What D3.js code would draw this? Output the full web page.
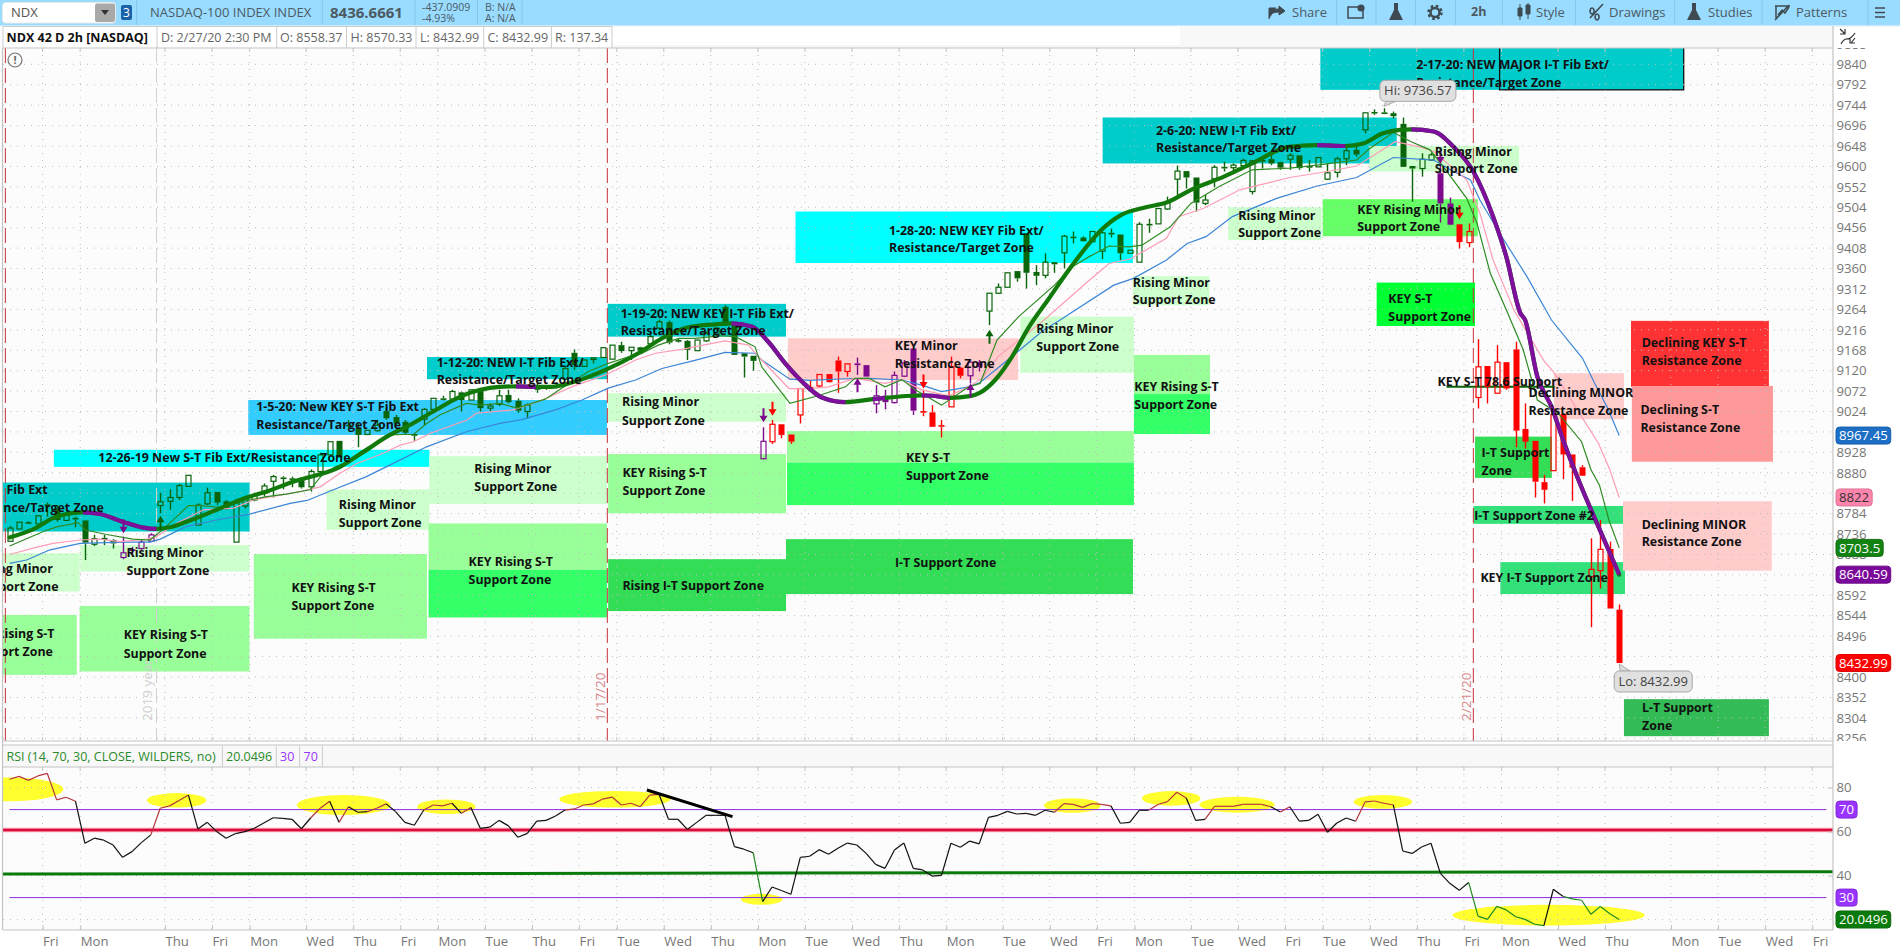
<!DOCTYPE html>
<html>
<head>
<meta charset="utf-8">
<script src="https://cdn.jsdelivr.net/npm/d3@7"></script>
<style>
  html, body { margin: 0; padding: 0; background: #fff; overflow: hidden; }
  svg { display: block; font-family: "Open Sans", sans-serif; }
</style>
</head>
<body>
<div id="chart"></div>
<script>
// 2h bars, open / high / low / close, oldest first
var ohlc = [
[8719,8755,8719,8750],[8748,8764,8748,8764],[8764,8766,8760,8762],[8760,8780,8760,8779],[8806,8810,8777,8803],
[8796,8804,8765,8769],[8768,8781,8768,8781],[8774,8777,8752,8772],[8768,8768,8675,8716],[8712,8734,8708,8725],
[8727,8734,8710,8722],[8722,8724,8702,8714],[8681,8730,8677,8692],[8700,8706,8683,8697],[8702,8722,8699,8717],
[8719,8738,8717,8734],[8803,8833,8785,8812],[8813,8841,8793,8822],[8822,8854,8816,8850],[8848,8874,8848,8874],
[8757,8808,8757,8804],[8807,8845,8804,8833],[8835,8835,8804,8810],[8813,8816,8793,8796],[8717,8819,8717,8811],
[8802,8824,8796,8819],[8816,8833,8813,8827],[8832,8855,8824,8849],[8860,8875,8822,8871],[8869,8872,8841,8868],
[8867,8871,8846,8865],[8863,8867,8843,8846],[8847,8888,8836,8883],[8883,8927,8871,8922],[8922,8953,8922,8953],
[8955,8955,8916,8916],[8993,9004,8981,8992],[8985,8996,8940,8969],[8970,8980,8970,8980],[8979,9004,8977,8992],
[9025,9032,9004,9008],[9011,9016,8992,8996],[9000,9004,8969,8974],[8971,8973,8955,8967],[9006,9032,8992,9029],
[9029,9055,9029,9055],[9055,9061,9050,9053],[9053,9075,9050,9071],[9069,9071,9024,9051],[9051,9075,9051,9075],
[9076,9079,9024,9032],[9032,9043,9024,9037],[9041,9075,9037,9061],[9063,9075,9043,9046],[9049,9055,9021,9026],
[9024,9043,9008,9039],[9086,9094,9068,9075],[9082,9086,9075,9077],[9086,9092,9078,9082],[9100,9130,9098,9125],
[9162,9170,9122,9133],[9130,9146,9130,9145],[9147,9151,9137,9150],[9151,9174,9151,9174],[9147,9180,9147,9180],
[9180,9188,9162,9166],[9167,9175,9145,9175],[9175,9176,9161,9167],[9183,9205,9178,9200],[9220,9240,9215,9235],
[9234,9238,9182,9186],[9192,9196,9186,9188],[9190,9192,9145,9169],[9167,9192,9167,9192],[9190,9212,9188,9208],
[9204,9222,9200,9220],[9270,9274,9225,9227],[9227,9230,9157,9157],[9161,9161,9104,9153],[9155,9155,9120,9143],
[8913,8987,8912,8954],[8953,9004,8948,8994],[8994,8994,8961,8969],[8970,8970,8948,8953],[9016,9079,8996,9078],
[9082,9098,9075,9078],[9084,9111,9080,9111],[9112,9112,9092,9093],[9144,9153,9068,9118],[9118,9137,9106,9136],
[9137,9151,9110,9133],[9133,9133,9106,9106],[9042,9086,9020,9061],[9061,9075,9029,9046],[9045,9118,9043,9109],
[9107,9145,9106,9138],[9172,9172,9016,9026],[9025,9075,9013,9022],[9022,9039,8988,8988],[8992,9004,8963,8989],
[9035,9153,9035,9129],[9127,9129,9102,9108],[9108,9141,9090,9140],[9140,9145,9118,9129],[9260,9302,9227,9302],
[9302,9325,9300,9316],[9316,9350,9316,9350],[9354,9354,9329,9337],[9443,9443,9313,9350],[9352,9368,9321,9343],
[9344,9396,9337,9375],[9375,9375,9350,9370],[9397,9439,9360,9436],[9435,9447,9419,9433],[9433,9436,9424,9424],
[9423,9447,9423,9447],[9401,9447,9382,9444],[9444,9454,9433,9440],[9440,9440,9380,9396],[9396,9403,9396,9403],
[9375,9469,9375,9464],[9465,9477,9444,9463],[9465,9501,9465,9501],[9500,9529,9498,9516],[9570,9602,9533,9589],
[9589,9589,9548,9574],[9574,9574,9494,9515],[9513,9533,9509,9521],[9571,9603,9551,9598],[9599,9611,9588,9597],
[9597,9607,9588,9603],[9602,9618,9600,9614],[9541,9615,9534,9613],[9615,9623,9595,9613],[9617,9627,9603,9607],
[9610,9611,9592,9597],[9617,9631,9592,9626],[9626,9626,9592,9596],[9601,9615,9588,9597],[9599,9621,9599,9621],
[9570,9607,9568,9585],[9586,9623,9574,9618],[9618,9643,9603,9637],[9639,9646,9623,9628],[9686,9726,9678,9726],
[9728,9734,9721,9726],[9727,9736.57,9723,9724],[9725,9729,9713,9718],[9700,9715,9599,9599],[9601,9601,9517,9595],
[9595,9631,9576,9617],[9615,9632,9613,9627],[9584,9615,9468,9513],[9513,9527,9462,9463],[9464,9464,9407,9422],
[9421,9466,9410,9447],[9057,9194,9031,9129],[9131,9131,9043,9082],[9067,9180,9067,9140],[9140,9140,9075,9078],
[9170,9188,8940,8979],[8983,9043,8937,8953],[8955,8955,8822,8859],[8858,8875,8808,8840],[8885,9017,8885,9017],
[9018,9018,8865,8923],[8923,8923,8814,8892],[8893,8898,8873,8873],[8636,8726,8517,8653],[8650,8769,8608,8700],
[8701,8718,8561,8561],[8558.37,8570.33,8432.99,8432.99]
];
var purpleBars = [12,13,14,15,80,90,91,92,93,94,95,96,102,103,152,153];
var redBars = [81,82,83,84,85,86,87,88,89,97,98,99,100,101,154,155,156,157,158,159,160,161,162,163,164,165,166,167,168,169,170,171];

// moving averages: [bar, price] vertices
var maThick = [[0,8728],[2.5,8747],[5,8777],[7.8,8787],[9.6,8783],[12,8765],[14.2,8751],[15.6,8748],[17,8752],[18.8,8765],[22,8793],[25.2,8822],[27.3,8836],[30.1,8859],[35.1,8894],[37.9,8934],[40.4,8969],[42.5,8992],[45,9024],[47.9,9059],[50,9075],[52,9082],[53.8,9083],[55.9,9082],[57.6,9082],[59.7,9092],[63.3,9122],[66.8,9161],[69.3,9196],[72.1,9222],[75,9229],[76.7,9231],[78.9,9223],[80.6,9188],[82.4,9137],[84.2,9094],[86.3,9057],[88.8,9046],[91.7,9053],[93,9056],[95.9,9061],[96.9,9062],[98,9061],[99.9,9056],[102,9060],[103,9067],[104.7,9098],[106.5,9153],[108.3,9223],[110.3,9286],[112.9,9368],[116,9451],[118.1,9486],[120.7,9504],[122.9,9515],[125.5,9545],[129,9576],[132,9607],[135.9,9646],[138.9,9650],[141.9,9648],[143.8,9654],[145.9,9678],[147.7,9686],[148.9,9687],[151.3,9682],[153.4,9646],[155.5,9588],[157.6,9482],[159,9388],[160.5,9255],[161,9239],[162.3,9106],[163.8,9035],[165.3,8941],[167.1,8840],[168.8,8753],[171,8640.59]];
var thickPurpleRanges = [[7.8,15.6],[53.8,55.9],[76.7,88.8],[91.7,93],[96.9,99.9],[138.9,141.9],[148.9,172]];
var maGreen = [[0,8708],[3.6,8742],[5,8753],[7.3,8763],[8,8746],[10.3,8735],[13.1,8724],[14.9,8722],[16.3,8747],[19,8803],[20.2,8803],[22.4,8799],[25.5,8816],[27.3,8824],[29.4,8830],[31.9,8840],[33.2,8875],[34.7,8895],[36.2,8906],[38,8930],[40.4,8969],[41.8,8970],[42.9,8970],[44.3,8996],[45.7,9016],[48.5,9043],[50.1,9039],[52.1,9043],[53.9,9032],[56.9,9053],[58.9,9082],[61.5,9118],[63.6,9137],[66.1,9155],[67.2,9161],[68.9,9180],[71.1,9196],[72.8,9196],[75.7,9202],[77.1,9200],[79.2,9176],[79.9,9129],[82.9,9043],[85.9,9061],[88.8,9082],[89.8,9102],[91.3,9102],[93,9082],[94.8,9099],[96.2,9075],[99,9039],[101.9,9082],[103.1,9090],[104.9,9192],[107.2,9247],[111,9321],[112.9,9364],[114.7,9388],[116.8,9413],[119,9411],[120.3,9415],[123.3,9458],[125.5,9513],[128.5,9553],[132,9592],[136,9596],[138.9,9603],[143.1,9615],[144.5,9642],[147,9680],[148.9,9658],[150.9,9639],[152.7,9588],[154.8,9525],[155.9,9466],[157.3,9349],[159,9263],[160.8,9169],[162.3,9051],[164.5,9020],[167,8953],[168,8887],[168.9,8851],[169.9,8769],[171,8703.5]];
var maPink = [[0,8688],[2.5,8703],[4.6,8714],[7.5,8722],[9.6,8724],[11.7,8718],[14.6,8724],[15.6,8730],[17.7,8761],[20.6,8793],[23.8,8797],[25.9,8816],[30.9,8836],[33,8847],[35.1,8879],[36.9,8902],[39.7,8926],[41.5,8945],[42.9,8953],[44.7,8973],[48.6,9004],[49.6,9020],[53.5,9028],[56.6,9051],[59.7,9082],[63.3,9110],[66.5,9145],[68.6,9161],[71.4,9170],[76,9190],[78.5,9180],[79.9,9145],[82.8,9078],[84.9,9078],[87,9082],[89.8,9102],[93,9090],[94.8,9098],[96.9,9075],[99.8,9061],[101.9,9082],[103.3,9102],[105,9153],[109.9,9239],[114.3,9325],[116.8,9372],[119,9382],[122.9,9431],[124.2,9482],[126.8,9501],[130.7,9545],[136,9574],[140,9588],[143.1,9601],[147.2,9658],[149.8,9646],[151.3,9635],[154.8,9568],[156.2,9490],[157.6,9380],[159.8,9263],[163,9143],[164,9118],[167,9012],[168.8,8949],[170,8887],[171,8822]];
var maBlue = [[0,8667],[1.8,8675],[4.3,8699],[7.5,8714],[12.1,8717],[14.9,8717],[16,8724],[18.8,8754],[22,8769],[25.5,8783],[29.8,8808],[31.6,8815],[34.4,8840],[37.9,8871],[42.2,8918],[44.3,8941],[48.6,8977],[52.1,8996],[54.4,9005],[58,9028],[60.8,9051],[63.6,9079],[66.5,9098],[69.3,9125],[72.8,9144],[76,9163],[79.2,9161],[79.9,9145],[82.9,9100],[84.9,9097],[88.8,9101],[91.3,9102],[94.8,9098],[96.9,9086],[99,9071],[101.9,9082],[103.1,9092],[106.9,9161],[109.9,9216],[111.6,9239],[117.3,9321],[119.4,9337],[122.9,9380],[125.1,9419],[127.1,9435],[129.9,9482],[134.6,9525],[138.9,9554],[143.1,9574],[147,9621],[151.3,9615],[153.4,9588],[155.2,9568],[156.2,9521],[158.3,9443],[161.2,9341],[163.8,9239],[167.1,9149],[168.4,9090],[169.7,9035],[171,8967.45]];

// signal arrows: bar, tip price, direction, colour kind
var arrows = [[12,8738,"down","purple"],[16,8779,"up","green"],[80,8999,"down","purple"],[81,9014,"down","red"],[90,9102,"up","purple"],[97,9078,"down","red"],[102,9090,"up","purple"],[104,9216,"up","green"],[152,9607,"down","purple"],[154,9476,"down","red"]];

// support / resistance zones: kind, bar from, bar to, price top, price bottom
var zones = [
["mid",139.25,177.85,9888,9780],["mid",116.12,147.36,9715,9607],
["cyan",83.49,119.34,9494,9373],["mid",63.54,82.48,9277,9200],["mid",44.34,63.57,9152,9100],
["sky",25.35,63.46,9051,8969],["cyan",4.7,44.6,8934,8894],["mid",-1,25.5,8857,8742],
["minor",-1,7.44,8691,8601],["minor",7.52,25.48,8710,8648],["minor",33.67,44.6,8841,8746],["minor",44.6,63.46,8919,8807],
["minor",63.54,82.48,9067,9000],["minorRes",82.69,107.13,9196,9098],["minor",107.38,119.44,9247,9115],
["minor",119.32,127.46,9342,9274],["minor",129.47,139.39,9504,9427],["minor",144.46,160.37,9648,9588],
["keyLight",-1,7.13,8546,8405],["keyLight",7.44,25.48,8567,8413],["keyLight",25.95,44.34,8689,8490],
["keyLight",44.51,63.46,8761,8652],["keyBright",44.51,63.46,8652,8540],["keyLight",63.59,82.48,8924,8785],
["keyLight",82.59,119.44,8978,8904],["keyBright",82.59,119.44,8904,8804],["keyLight",119.44,127.53,9157,9065],
["keyBright",119.44,127.53,9065,8971],["keyMinor",139.5,155.97,9523,9436],["keyST",145.23,155.68,9327,9225],
["it",63.59,82.48,8677,8555],["it",82.48,119.34,8724,8595],["it",155.68,163.84,8965,8868],
["it2",155.52,171.72,8802,8760],["it2",158.37,171.61,8670,8595],["lt",171.5,186.9,8348,8261],
["keyRes",172.25,186.9,9237,9082],["stRes",172.34,187.33,9084,8906],["minorRes",164.06,171.5,9114,9006],["minorRes",171.4,187.21,8813,8650]
];
var zoneKinds = ["mid","cyan","sky","minor","minorRes","keyLight","keyBright","keyMinor","keyST","it","it2","lt","keyRes","stRes"];
var zoneColors = ["#00cccc","#00ffff","#33ccff","#ccffcc","#ffcccc","#99ff99","#33ff66","#66ff66","#00ff33","#33dd55","#33e07a","#33bb55","#ff3333","#ff9999"];
var outlinedZone = [158.29,177.85,9888,9780];

// zone captions: text, bar of first letter, price of text middle
var captions = [
["2-17-20: NEW MAJOR I-T Fib Ext/",149.44,9840],["Resistance/Target Zone",149.44,9798],
["2-6-20: NEW I-T Fib Ext/",121.79,9684],["Resistance/Target Zone",121.79,9643],
["1-28-20: NEW KEY Fib Ext/",93.42,9449],["Resistance/Target Zone",93.42,9408],
["1-19-20: NEW KEY I-T Fib Ext/",64.92,9255],["Resistance/Target Zone",64.92,9214],
["1-12-20: NEW I-T Fib Ext/",45.37,9139],["Resistance/Target Zone",45.37,9098],
["1-5-20: New KEY S-T Fib Ext",26.2,9035],["Resistance/Target Zone",26.2,8993],
["12-26-19 New S-T Fib Ext/Resistance Zone",9.43,8916],
["Fib Ext",-0.33,8840],["Resistance/Target Zone",-5.4,8798],
["Rising Minor",-3.6,8655],["Support Zone",-3.6,8612],
["Rising Minor",12.42,8692],["Support Zone",12.42,8650],
["Rising Minor",34.97,8805],["Support Zone",34.97,8763],
["Rising Minor",49.37,8890],["Support Zone",49.37,8847],
["Rising Minor",65.06,9046],["Support Zone",65.06,9003],
["KEY Minor",94.03,9179],["Resistance Zone",94.03,9137],
["Rising Minor",109.07,9219],["Support Zone",109.07,9176],
["Rising Minor",119.32,9327],["Support Zone",119.32,9286],
["Rising Minor",130.53,9484],["Support Zone",130.53,9444],
["Rising Minor",151.4,9634],["Support Zone",151.4,9594],
["KEY Rising S-T",-4.2,8503],["Support Zone",-4.2,8460],
["KEY Rising S-T",12.12,8499],["Support Zone",12.12,8455],
["KEY Rising S-T",29.94,8610],["Support Zone",29.94,8568],
["KEY Rising S-T",48.76,8671],["Support Zone",48.76,8629],
["KEY Rising S-T",65.1,8880],["Support Zone",65.1,8838],
["KEY S-T",95.23,8916],["Support Zone",95.23,8873],
["KEY Rising S-T",119.48,9082],["Support Zone",119.48,9041],
["KEY Rising Minor",143.17,9498],["Support Zone",143.17,9458],
["KEY S-T",146.47,9289],["Support Zone",146.47,9248],
["Rising I-T Support Zone",65.1,8615],["I-T Support Zone",94.06,8669],
["I-T Support",156.38,8927],["Zone",156.38,8885],["I-T Support Zone #2",155.6,8779],
["KEY I-T Support Zone",156.25,8633],["L-T Support",173.43,8327],["Zone",173.43,8285],
["Declining KEY S-T",173.38,9186],["Resistance Zone",173.38,9143],
["Declining S-T",173.25,9029],["Resistance Zone",173.25,8987],
["Declining MINOR",161.37,9069],["Resistance Zone",161.37,9026],
["Declining MINOR",173.38,8759],["Resistance Zone",173.38,8717],
["KEY S-T 78.6 Support",151.7,9094]
];
var fibLevel = [152.65,164.14,9082];

var priceTicks = [9888,9840,9792,9744,9696,9648,9600,9552,9504,9456,9408,9360,9312,9264,9216,9168,9120,9072,9024,8976,8928,8880,8832,8784,8736,8688,8640,8592,8544,8496,8448,8400,8352,8304,8256];
var priceTickLabels = [9888,9840,9792,9744,9696,9648,9600,9552,9504,9456,9408,9360,9312,9264,9216,9168,9120,9072,9024,null,8928,8880,null,8784,8736,8688,null,8592,8544,8496,null,8400,8352,8304,8256];
var dayTicks = [3.5,7.5,16.5,21.5,25.5,31.5,36.5,41.5,45.5,50.5,55.5,60.5,64.5,69.5,74.5,79.5,84.5,89.5,94.5,99.5,105.5,110.5,115.5,119.5,125.5,130.5,135.5,139.5,144.5,149.5,154.5,158.5,164.5,169.5,176.5,181.5,186.5,191.5];
var dayLabels = ["Fri","Mon","Thu","Fri","Mon","Wed","Thu","Fri","Mon","Tue","Thu","Fri","Tue","Wed","Thu","Mon","Tue","Wed","Thu","Mon","Tue","Wed","Fri","Mon","Tue","Wed","Fri","Tue","Wed","Thu","Fri","Mon","Wed","Thu","Mon","Tue","Wed","Fri"];
var redLines = [-0.45,63.5,155.5];
var yearLine = 15.5;
var lineNotes = [["2019 year",15.1,"#cfcfcf"],["1/17/20",63.2,"#d9858a"],["2/21/20",155.2,"#d9858a"]];

var priceTags = [["8967.45",8967.45,"#1c6fc4","#fff"],["8822",8822,"#ff85ad","#333"],["8703.5",8703.5,"#128212","#fff"],["8640.59",8640.59,"#7a0a9a","#fff"],["8432.99",8432.99,"#ff0000","#fff"]];
var hiValue = 9736.57, loValue = 8432.99;

// RSI per bar
var rsi = [83.8,85.1,83.3,85.3,86.5,74.4,75.6,73.8,54.7,57.0,56.1,53.9,48.3,50.9,55.0,58.5,70.6,71.7,74.1,76.6,61.2,64.2,60.0,57.0,59.1,60.0,61.5,63.9,66.3,66.0,65.6,61.3,66.3,70.6,73.8,64.2,71.3,68.8,69.1,70.6,72.6,69.1,64.2,62.9,69.8,72.1,71.7,72.9,68.3,71.0,61.5,62.0,65.1,62.6,57.4,59.2,64.8,65.1,67.1,69.8,70.3,72.1,72.6,74.8,75.7,72.1,72.9,71.3,76.6,76.9,65.6,65.6,61.0,64.2,67.4,67.4,67.4,53.2,52.0,50.4,28.2,34.8,33.2,31.5,48.3,48.8,51.8,49.7,52.4,54.8,53.9,50.1,45.1,43.3,51.6,54.8,43.3,42.6,39.8,40.1,54.7,52.9,55.7,54.4,66.5,67.4,69.2,68.0,68.3,67.4,69.7,68.8,72.7,72.4,71.0,72.7,72.4,71.7,63.8,64.2,69.7,69.7,72.3,73.6,77.9,75.3,65.1,65.6,71.5,71.5,71.5,72.4,72.4,72.4,71.3,68.9,71.3,64.8,65.1,67.9,59.7,63.9,66.2,64.7,73.5,73.9,72.9,72.1,51.2,50.1,53.0,54.7,41.0,36.5,33.3,36.9,21.6,20.1,26.0,24.4,21.3,20.1,17.9,17.3,33.8,30.6,29.4,28.8,22.4,26.0,22.7,20.05];
var rsiTicks = [80,60,40];
var rsiGrid = [80,60,40,20];
var rsiBands = [70,30];
var rsiBandEnd = 193;
var rsiRedLine = [[-1,60.7],[194,60.7]];
var rsiGreenLine = [[-1,40.7],[194,41.8]];
var rsiTrend = [[67.7,78.9],[76.8,66.8]];
var rsiTags = [["70",70,"#9933ff","#fff"],["30",30,"#9933ff","#fff"],["20.0496",20.0496,"#0a7a0a","#fff"]];
// yellow highlights: bar, rsi, half width in bars, half height in rsi
var highlights = [[0,79.2,5.7,5.4],[17.75,74.2,3.15,3.3],[35.5,72.1,5,4.55],[46.4,71.3,3.1,3.3],[64.3,74.7,5.9,3.8],[79.9,29.2,2.2,2.5],[112.9,71.9,3,3.3],[123.4,75.1,3.1,3.3],[130.4,72.2,4,3.6],[145.9,73.5,3.1,3.1],[163.5,22,10.2,4.7]];

var width = 1900, height = 949;
var left = 3, axisX = 1833;
var mainTop = 48, mainBottom = 741, rsiTop = 767, rsiBottom = 930;

var x = d3.scaleLinear().domain([0,191.5]).range([9.6,1812.2]);
var y = d3.scaleLinear().domain([8256,9840]).range([738.3,64.3]);
var ry = d3.scaleLinear().domain([20,80]).range([919.6,787.6]);
var zoneColor = d3.scaleOrdinal().domain(zoneKinds).range(zoneColors);
var barColors = { green: "#0a640a", purple: "#7d0a8c", red: "#ff0000" };

var svg = d3.select("#chart").append("svg").attr("width",width).attr("height",height);
svg.append("rect").attr("width",width).attr("height",height).attr("fill","#fff");

var defs = svg.append("defs");
defs.append("clipPath").attr("id","mainClip").append("rect").attr("x",left).attr("y",mainTop).attr("width",axisX-left).attr("height",mainBottom-mainTop);
defs.append("clipPath").attr("id","rsiClip").append("rect").attr("x",left).attr("y",rsiTop).attr("width",axisX-left).attr("height",rsiBottom-rsiTop);
defs.append("clipPath").attr("id","priceClip").append("rect").attr("x",axisX).attr("y",mainTop).attr("width",width-axisX).attr("height",mainBottom-mainTop);
defs.append("clipPath").attr("id","purpleClip").selectAll("rect").data(thickPurpleRanges).enter().append("rect")
  .attr("x",d => x(d[0])).attr("width",d => x(d[1])-x(d[0])).attr("y",mainTop).attr("height",mainBottom-mainTop);

svg.append("rect").attr("x",left).attr("y",mainTop).attr("width",axisX-left).attr("height",mainBottom-mainTop).attr("fill","#fcfcfc");
svg.append("rect").attr("x",left).attr("y",rsiTop).attr("width",axisX-left).attr("height",rsiBottom-rsiTop).attr("fill","#fcfcfc");
svg.append("rect").attr("x",left).attr("y",745).attr("width",axisX-left).attr("height",22).attr("fill","#f8f8f8");

drawHeader();

// ---- price panel
var main = svg.append("g").attr("clip-path","url(#mainClip)");

main.selectAll(".zone").data(zones).enter().append("rect").attr("class","zone")
  .attr("x",d => x(d[1])).attr("width",d => x(d[2])-x(d[1]))
  .attr("y",d => y(d[3])).attr("height",d => y(d[4])-y(d[3]))
  .attr("fill",d => zoneColor(d[0]));

main.append("rect")
  .attr("x",x(outlinedZone[0])).attr("width",x(outlinedZone[1])-x(outlinedZone[0]))
  .attr("y",y(outlinedZone[2])).attr("height",y(outlinedZone[3])-y(outlinedZone[2]))
  .attr("fill","none").attr("stroke","#111").attr("stroke-width",1.3);

// dotted grid sits over the zones
main.selectAll(".hgrid").data(priceTicks).enter().append("line").attr("class","hgrid")
  .attr("x1",left).attr("x2",axisX).attr("y1",d => y(d)).attr("y2",d => y(d))
  .attr("stroke","#bdbdbd").attr("stroke-dasharray","1,6");
main.selectAll(".vgrid").data(dayTicks).enter().append("line").attr("class","vgrid")
  .attr("x1",d => x(d)).attr("x2",d => x(d)).attr("y1",mainTop).attr("y2",mainBottom)
  .attr("stroke","#bdbdbd").attr("stroke-dasharray","1,6");

main.selectAll(".vmark").data(redLines).enter().append("line").attr("class","vmark")
  .attr("x1",d => x(d)).attr("x2",d => x(d)).attr("y1",mainTop).attr("y2",mainBottom)
  .attr("stroke","#c8323c").attr("stroke-width",1).attr("stroke-dasharray","15,5");
main.append("line").attr("x1",Math.round(x(yearLine))+0.5).attr("x2",Math.round(x(yearLine))+0.5).attr("y1",mainTop).attr("y2",mainBottom)
  .attr("stroke","#d2d2d2").attr("stroke-width",1).attr("stroke-dasharray","15,5");

main.selectAll(".note").data(lineNotes).enter().append("text").attr("class","note")
  .attr("transform",d => "translate(" + x(d[1]) + ",721) rotate(-90)")
  .attr("fill",d => d[2]).attr("font-size",13.5).text(d => d[0]);

main.append("line").attr("x1",x(fibLevel[0])).attr("x2",x(fibLevel[1])).attr("y1",y(fibLevel[2])).attr("y2",y(fibLevel[2]))
  .attr("stroke","#0a640a").attr("stroke-width",2);

// candles
function barColor(i) {
  if (purpleBars.indexOf(i) >= 0) return barColors.purple;
  if (redBars.indexOf(i) >= 0) return barColors.red;
  return barColors.green;
}

var candle = main.selectAll(".candle").data(ohlc).enter().append("g").attr("class","candle");
candle.each(function(d,i) {
  var g = d3.select(this), cx = Math.round(x(i)) + 0.5, col = barColor(i);
  var top = y(Math.max(d[0],d[3])), bot = y(Math.min(d[0],d[3]));
  if (bot - top < 1.6) bot = top + 1.6;
  g.append("line").attr("x1",cx).attr("x2",cx).attr("y1",y(d[1])).attr("y2",top).attr("stroke",col).attr("stroke-width",1.4);
  g.append("line").attr("x1",cx).attr("x2",cx).attr("y1",bot).attr("y2",y(d[2])).attr("stroke",col).attr("stroke-width",1.4);
  if (d[3] > d[0]) {
    g.append("rect").attr("x",cx-2.5).attr("width",5).attr("y",top).attr("height",bot-top)
      .attr("fill","none").attr("stroke",col).attr("stroke-width",1.2);
  } else {
    g.append("rect").attr("x",cx-3).attr("width",6).attr("y",top).attr("height",bot-top).attr("fill",col);
  }
});

// moving averages
var maLine = d3.line().x(d => x(d[0])).y(d => y(d[1]));
[[maBlue,"#3a85d6"],[maPink,"#ff9db5"],[maGreen,"#2e8b22"]].forEach(m => {
  main.append("path").attr("d",maLine(m[0])).attr("fill","none").attr("stroke",m[1]).attr("stroke-width",1.2);
});

var thickLine = d3.line().curve(d3.curveMonotoneX).x(d => x(d[0])).y(d => y(d[1]));
main.append("path").attr("d",thickLine(maThick)).attr("fill","none").attr("stroke","#127a0a").attr("stroke-width",4.2).attr("stroke-linecap","round");
main.append("g").attr("clip-path","url(#purpleClip)")
  .append("path").attr("d",thickLine(maThick)).attr("fill","none").attr("stroke","#7d0f9c").attr("stroke-width",4.2);

// signal arrows
main.selectAll(".arrow").data(arrows).enter().append("path").attr("class","arrow")
  .attr("transform",d => "translate(" + (Math.round(x(d[0]))+0.5) + "," + y(d[1]) + ")" + (d[2]=="up" ? "" : " scale(1,-1)"))
  .attr("d","M0,0 L4,6.5 L1,6.5 L1,14 L-1,14 L-1,6.5 L-4,6.5 Z")
  .attr("fill",d => barColors[d[3]]);

// captions go over the candles, only the bubbles cover them
main.selectAll(".caption").data(captions).enter().append("text").attr("class","caption")
  .attr("x",d => x(d[1])).attr("y",d => y(d[2])).attr("dy","0.35em")
  .attr("font-size",12.4).attr("font-weight",700).attr("fill","#111").text(d => d[0]);

// high / low bubbles
bubble(x(146), y(hiValue), "Hi: 9736.57", -4, -28, 76);
bubble(x(171), y(loValue), "Lo: 8432.99", -5, 8, 78);

function bubble(px, py, label, dx, dy, w) {
  var bx = px + dx, by = py + dy, h = 21;
  var g = main.append("g");
  var ty = dy < 0 ? by + h : by;
  g.append("path").attr("d","M" + (bx+6) + "," + ty + " L" + px + "," + (py + (dy<0 ? -2 : 1)) + " L" + (bx+16) + "," + ty + " Z")
    .attr("fill","#ddd").attr("stroke","#aaa");
  g.append("rect").attr("x",bx).attr("y",by).attr("width",w).attr("height",h).attr("rx",5)
    .attr("fill","#e0e0e0").attr("stroke","#a8a8a8").attr("stroke-width",1);
  g.append("text").attr("x",bx+w/2).attr("y",by+h/2).attr("dy","0.35em").attr("text-anchor","middle")
    .attr("font-size",13).attr("fill","#444").text(label);
}

// info icon
svg.append("circle").attr("cx",15).attr("cy",60).attr("r",7).attr("fill","#fafafa").attr("stroke","#777").attr("stroke-width",1.2);
svg.append("text").attr("x",15).attr("y",60).attr("dy","0.36em").attr("text-anchor","middle").attr("font-size",11).attr("font-weight",700).attr("fill","#666").text("!");

// ---- price axis
var priceAxis = d3.axisRight(y).tickValues(priceTicks).tickSize(-5).tickFormat((d,i) => priceTickLabels[i] === null ? "" : d);
var priceG = svg.append("g").attr("clip-path","url(#priceClip)").append("g").attr("transform","translate(" + axisX + ",0)").call(priceAxis);
styleAxis(priceG);
priceG.selectAll("text").attr("x",3.5);

// ---- RSI panel
var lower = svg.append("g").attr("clip-path","url(#rsiClip)");

lower.selectAll(".hl").data(highlights).enter().append("ellipse").attr("class","hl")
  .attr("cx",d => x(d[0])).attr("cy",d => ry(d[1]))
  .attr("rx",d => x(d[2])-x(0)).attr("ry",d => ry(0)-ry(d[3]))
  .attr("fill","#ffff2e");

lower.selectAll(".rgrid").data(rsiGrid).enter().append("line").attr("class","rgrid")
  .attr("x1",left).attr("x2",axisX).attr("y1",d => ry(d)).attr("y2",d => ry(d))
  .attr("stroke","#bdbdbd").attr("stroke-dasharray","1,6");
lower.selectAll(".vgrid").data(dayTicks).enter().append("line").attr("class","vgrid")
  .attr("x1",d => x(d)).attr("x2",d => x(d)).attr("y1",rsiTop).attr("y2",rsiBottom)
  .attr("stroke","#bdbdbd").attr("stroke-dasharray","1,6");

lower.selectAll(".band").data(rsiBands).enter().append("line").attr("class","band")
  .attr("x1",x(0)).attr("x2",x(rsiBandEnd)).attr("y1",d => ry(d)).attr("y2",d => ry(d))
  .attr("stroke","#8a2be2").attr("stroke-width",1);

var rsiLine = d3.line().x(d => x(d[0])).y(d => ry(d[1]));
lower.append("path").attr("d",rsiLine(rsiRedLine)).attr("stroke","#ff9db0").attr("stroke-width",4.5).attr("fill","none");
lower.append("path").attr("d",rsiLine(rsiRedLine)).attr("stroke","#d80f3c").attr("stroke-width",2.4).attr("fill","none");
lower.append("path").attr("d",rsiLine(rsiGreenLine)).attr("stroke","#0a7a0a").attr("stroke-width",3).attr("fill","none");

d3.pairs(rsi.map((v,i) => [i,v])).forEach(p => {
  var v = p[1][1];
  lower.append("path").attr("d",rsiLine(p)).attr("fill","none").attr("stroke-width",1.2)
    .attr("stroke", v > 70 ? "#b5363c" : (v < 30 ? "#1f8a1f" : "#111"));
});
lower.append("path").attr("d",rsiLine(rsiTrend)).attr("stroke","#000").attr("stroke-width",3).attr("fill","none");

var rsiAxis = d3.axisRight(ry).tickValues(rsiTicks).tickSize(-5);
var rsiG = svg.append("g").attr("transform","translate(" + axisX + ",0)").call(rsiAxis);
styleAxis(rsiG);
rsiG.selectAll("text").attr("x",3.5);

// ---- time axis
var timeAxis = d3.axisBottom(x).tickValues(dayTicks).tickSize(-5).tickFormat((d,i) => dayLabels[i]);
var timeG = svg.append("g").attr("transform","translate(0," + rsiBottom + ")").call(timeAxis);
styleAxis(timeG);
timeG.selectAll("text").attr("y",6.4).attr("text-anchor","start");

// short day marks along the panel edges
[mainTop, rsiTop].forEach(py => {
  svg.selectAll(null).data(dayTicks).enter().append("line")
    .attr("x1",d => x(d)).attr("x2",d => x(d)).attr("y1",py).attr("y2",py+4).attr("stroke","#c4c4c4");
});
svg.selectAll(null).data(dayTicks).enter().append("line")
  .attr("x1",d => x(d)).attr("x2",d => x(d)).attr("y1",mainBottom-4).attr("y2",mainBottom).attr("stroke","#c4c4c4");

// panel frame
[[left,mainTop,axisX,mainTop],[left,mainBottom,axisX,mainBottom],[left,745,axisX,745],[left,rsiTop,axisX,rsiTop],[left,rsiBottom,axisX,rsiBottom],
 [left-0.5,mainTop,left-0.5,rsiBottom],[axisX,26,axisX,rsiBottom]].forEach(s => {
  svg.append("line").attr("x1",s[0]).attr("y1",s[1]).attr("x2",s[2]).attr("y2",s[3]).attr("stroke","#c4c4c4").attr("stroke-width",1.2);
});

// ---- value tags
drawTags(priceTags, y);
drawTags(rsiTags, ry);

function drawTags(list, scale) {
  var tag = svg.selectAll(null).data(list).enter().append("g")
    .attr("transform",d => "translate(1836," + scale(d[1]) + ")");
  var txt = tag.append("text").attr("x",3).attr("dy","0.35em").attr("font-size",13.2).attr("fill",d => d[3]).text(d => d[0]);
  tag.insert("rect","text")
    .attr("x",0).attr("y",-8.5).attr("rx",3.5).attr("height",17)
    .attr("width",function(d,i) { return txt.nodes()[i].getComputedTextLength() + 6; })
    .attr("fill",d => d[2]).attr("stroke",d => d3.color(d[2]).darker(0.4));
}

function styleAxis(g) {
  g.select(".domain").remove();
  g.selectAll("line").attr("stroke","#c4c4c4");
  g.selectAll("text").attr("font-size",13.2).attr("fill","#777").attr("font-family",'"Open Sans", sans-serif');
}

// ---- toolbar and info strip
function drawHeader() {
  svg.append("rect").attr("width",width).attr("height",25).attr("fill","#99dcff");
  svg.append("rect").attr("y",25).attr("width",width).attr("height",1.5).attr("fill","#cfe9f7");
  svg.append("rect").attr("y",26.5).attr("width",axisX).attr("height",21.5).attr("fill","#fff");
  svg.append("rect").attr("x",1180).attr("y",26.5).attr("width",axisX-1180).attr("height",21.5).attr("fill","#f8f8f8");
  svg.append("rect").attr("x",612).attr("y",45).attr("width",568).attr("height",3).attr("fill","#f6f6f6");

  // symbol box
  svg.append("rect").attr("x",2.5).attr("y",2.5).attr("width",113).attr("height",20.5).attr("rx",3).attr("fill","#fff").attr("stroke","#e8e8e8");
  svg.append("text").attr("x",11).attr("y",12.5).attr("dy","0.35em").attr("font-size",13).attr("fill","#555").text("NDX");
  svg.append("rect").attr("x",95).attr("y",3.5).attr("width",20).attr("height",18.5).attr("rx",2).attr("fill","#a9a9a9");
  svg.append("path").attr("d","M101,10 L109,10 L105,15 Z").attr("fill","#333");
  svg.append("rect").attr("x",121).attr("y",5).attr("width",11).attr("height",15).attr("rx",2).attr("fill","#1a62a8");
  svg.append("text").attr("x",126.5).attr("y",12.5).attr("dy","0.35em").attr("text-anchor","middle").attr("font-size",12).attr("fill","#fff").text("3");

  var top = [["NASDAQ-100 INDEX INDEX",150,12.5,13,400],["8436.6661",330,12.5,15,700],["-437.0909",422,7.5,10.5,400],["-4.93%",422,18.5,10.5,400],["B: N/A",485,7.5,10.5,400],["A: N/A",485,18.5,10.5,400],
    ["Share",1292,12.5,13,400],["2h",1471,12,12.5,700],["Style",1536,12.5,13,400],["Drawings",1609,12.5,13,400],["Studies",1708,12.5,13,400],["Patterns",1796,12.5,13,400]];
  svg.selectAll(null).data(top).enter().append("text")
    .attr("x",d => d[1]).attr("y",d => d[2]).attr("dy","0.35em").attr("font-size",d => d[3]).attr("font-weight",d => d[4]).attr("fill","#4d5a63").text(d => d[0]);

  var seps = [136.7,322.4,415,477.5,522,1336.7,1376,1415.5,1455.5,1502.4,1575.5,1674.7,1762,1868];
  svg.selectAll(null).data(seps).enter().append("line").attr("x1",d => d).attr("x2",d => d).attr("y1",0).attr("y2",25).attr("stroke","#85c7ea");

  var strip = [["NDX 42 D 2h [NASDAQ]",6.5,700,"#111"],["D: 2/27/20 2:30 PM",161,400,"#666"],["O: 8558.37",280,400,"#666"],["H: 8570.33",350.6,400,"#666"],["L: 8432.99",420,400,"#666"],["C: 8432.99",487.5,400,"#666"],["R: 137.34",555,400,"#666"]];
  svg.selectAll(null).data(strip).enter().append("text")
    .attr("x",d => d[1]).attr("y",37.5).attr("dy","0.35em").attr("font-size",12.5).attr("font-weight",d => d[2]).attr("fill",d => d[3]).text(d => d[0]);
  var stripSeps = [3,157,276.7,346.5,416,483.7,551.4,612];
  svg.selectAll(null).data(stripSeps).enter().append("line").attr("x1",d => d).attr("x2",d => d).attr("y1",26.5).attr("y2",48).attr("stroke","#ccc");
  svg.append("line").attr("x1",3).attr("x2",612).attr("y1",26.5).attr("y2",26.5).attr("stroke","#ccc");

  var rsiHead = [["RSI (14, 70, 30, CLOSE, WILDERS, no)",6.5,"#2a8a2a"],["20.0496",226,"#2a8a2a"],["30",280,"#9933ff"],["70",303.6,"#9933ff"]];
  svg.selectAll(null).data(rsiHead).enter().append("text")
    .attr("x",d => d[1]).attr("y",756.5).attr("dy","0.35em").attr("font-size",12.5).attr("fill",d => d[2]).text(d => d[0]);
  var rsiSeps = [222.4,276.3,299.6,322.4];
  svg.selectAll(null).data(rsiSeps).enter().append("line").attr("x1",d => d).attr("x2",d => d).attr("y1",746).attr("y2",767).attr("stroke","#ccc");

  // toolbar glyphs, roughly
  var icon = "#3f4a52";
  svg.append("path").attr("d","M1269,19 L1269,8 L1276,8 M1270,15 C1272,10 1276,9 1279,9 L1279,6 L1285,11 L1279,15 L1279,12 C1275,12 1272,13 1270,15 Z").attr("fill",icon).attr("stroke",icon);
  svg.append("rect").attr("x",1348).attr("y",7).attr("width",15).attr("height",11).attr("fill","none").attr("stroke",icon).attr("stroke-width",1.5);
  svg.append("circle").attr("cx",1361).attr("cy",8).attr("r",3.6).attr("fill",icon);
  [1396,1694].forEach(cx => {
    svg.append("path").attr("d","M" + (cx-2) + ",3 L" + (cx+2) + ",3 L" + (cx+2) + ",10 L" + (cx+7) + ",20 L" + (cx-7) + ",20 L" + (cx-2) + ",10 Z").attr("fill",icon);
  });
  svg.append("circle").attr("cx",1435).attr("cy",12.5).attr("r",4.5).attr("fill","none").attr("stroke",icon).attr("stroke-width",2.5);
  svg.append("circle").attr("cx",1435).attr("cy",12.5).attr("r",6.5).attr("fill","none").attr("stroke",icon).attr("stroke-width",2.5).attr("stroke-dasharray","2.6,2.5");
  svg.append("path").attr("d","M1518,8 h4 v8 h-4 Z M1526,5 h4 v9 h-4 Z M1520,4 v16 M1528,3 v16").attr("fill",icon).attr("stroke",icon);
  svg.append("path").attr("d","M1590,18 L1603,4 M1592,8 a2,3 0 1,0 0.1,0 M1597,14 a2,3 0 1,0 0.1,0").attr("fill","none").attr("stroke",icon).attr("stroke-width",1.6);
  svg.append("path").attr("d","M1775,6 h15 M1776,6 v12 M1775,20 L1789,5 M1778,15 l4,-5 l3,3 l4,-6").attr("fill","none").attr("stroke",icon).attr("stroke-width",1.5);
  svg.append("path").attr("d","M1875,8 h10 M1875,12.5 h10 M1875,17 h10").attr("stroke",icon).attr("stroke-width",1.6);
  svg.append("path").attr("d","M1840,29 l5,5 M1845,29 v5 h-5 M1841,44 C1846,34 1848,44 1855,33 M1855,38 l-4,5 M1850,38 v5 h5").attr("fill","none").attr("stroke","#333").attr("stroke-width",1.2);
}
</script>
</body>
</html>
